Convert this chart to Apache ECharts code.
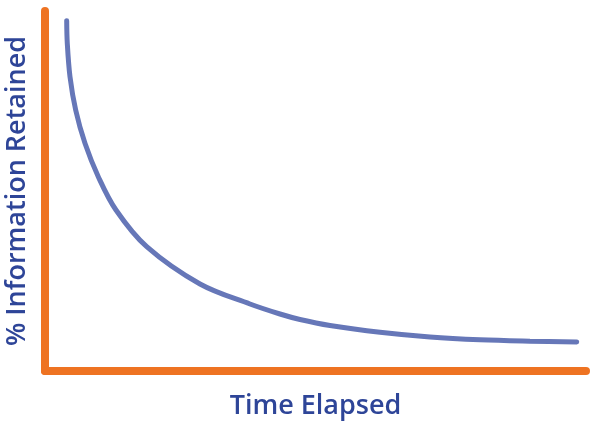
<!DOCTYPE html>
<html>
<head>
<meta charset="utf-8">
<script src="https://cdn.jsdelivr.net/npm/echarts@6/dist/echarts.min.js"></script>
<style>html,body{margin:0;padding:0;background:#fff}#c{width:600px;height:427px}</style>
</head>
<body>
<div id="c"></div>
<script>
// Forgetting curve
const timeValues = [4.01, 4.12, 4.62, 5.67, 7.39, 9.85, 13.12, 18.80, 28.65, 37.89, 43.44, 47.13, 52.68, 61.92, 71.16, 80.41, 89.65, 98.28];
const retainedValues = [97.31, 91.03, 81.75, 72.50, 63.25, 53.97, 44.72, 34.53, 24.17, 18.61, 15.83, 14.31, 12.64, 10.75, 9.44, 8.67, 8.28, 8.06];
const xAxisTitle = 'Time Elapsed';
const yAxisTitle = '% Information Retained';

const chart = echarts.init(document.getElementById('c'), null, {renderer: 'canvas'});
const axisColor = '#ee7322';
const textColor = '#2e4598';
chart.setOption({
  animation: false,
  grid: {left: 45, right: 14, top: 11, bottom: 56, containLabel: false, outerBoundsMode: 'none'},
  xAxis: {
    type: 'value', min: 0, max: 100,
    name: xAxisTitle, nameLocation: 'middle', nameGap: 22,
    nameTextStyle: {fontFamily: 'Open Sans', fontWeight: 600, fontSize: 27, color: textColor},
    axisLine: {show: true, lineStyle: {color: axisColor, width: 8, cap: 'round'}},
    axisTick: {show: false}, axisLabel: {show: false}, splitLine: {show: false}
  },
  yAxis: {
    type: 'value', min: 0, max: 100,
    name: yAxisTitle, nameLocation: 'middle', nameGap: 14, nameRotate: 90,
    nameTextStyle: {fontFamily: 'Open Sans', fontWeight: 600, fontSize: 27, color: textColor},
    axisLine: {show: true, lineStyle: {color: axisColor, width: 8, cap: 'round'}},
    axisTick: {show: false}, axisLabel: {show: false}, splitLine: {show: false}
  },
  series: [{
    type: 'line', smooth: 0.35, showSymbol: false,
    data: timeValues.map((t, i) => [t, retainedValues[i]]),
    lineStyle: {color: '#6677b8', width: 5, cap: 'round'}
  }]
});
</script>
</body>
</html>
